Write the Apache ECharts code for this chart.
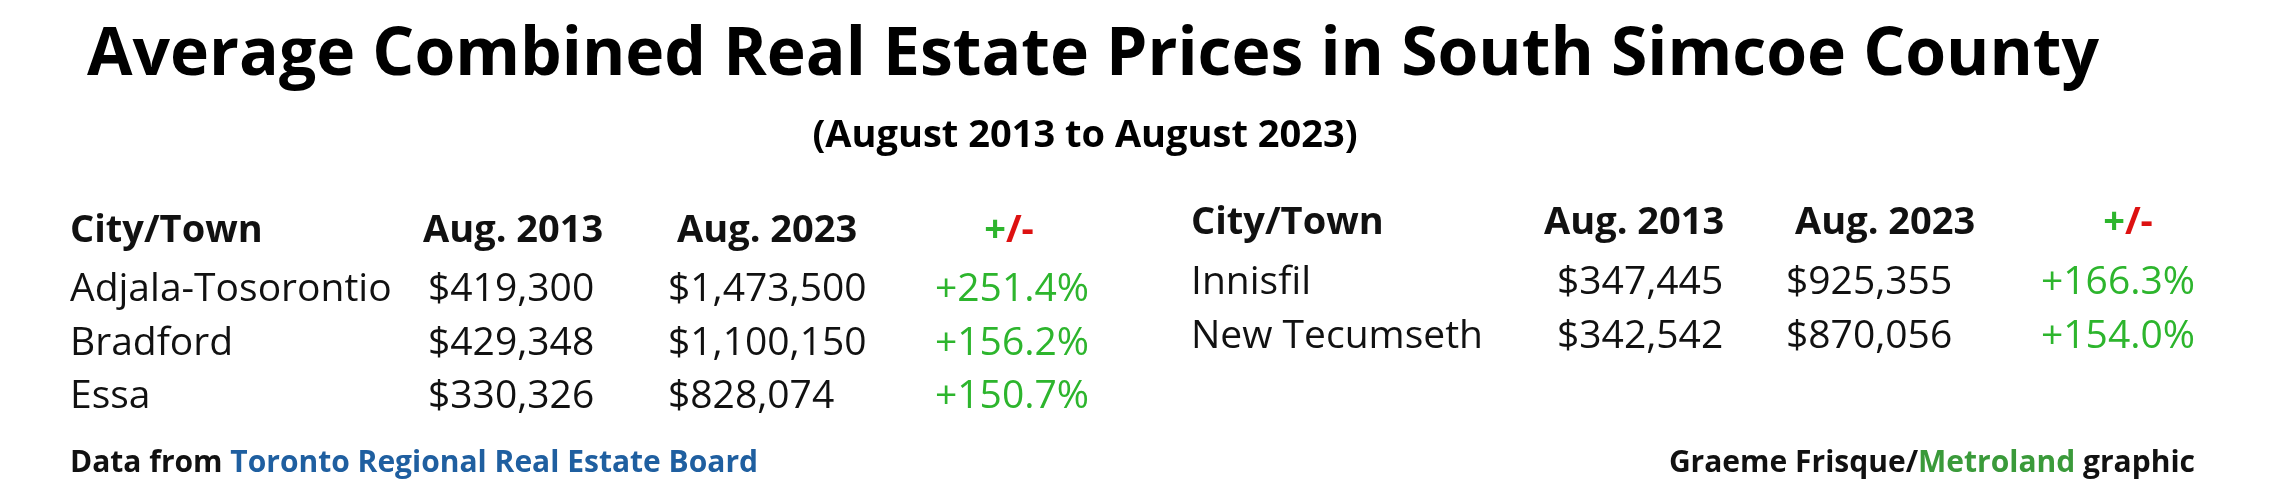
<!DOCTYPE html><html><head><meta charset="utf-8"><script src="https://cdn.jsdelivr.net/npm/echarts@6/dist/echarts.min.js"></script>
<style>html,body{margin:0;background:#fff}#c{width:2269px;height:500px}</style></head><body><div id="c"></div><script>
const headers=["City/Town","Aug. 2013","Aug. 2023"];
const leftTowns=["Adjala-Tosorontio","Bradford","Essa"];
const left2013=["$419,300","$429,348","$330,326"];
const left2023=["$1,473,500","$1,100,150","$828,074"];
const leftPct=["+251.4%","+156.2%","+150.7%"];
const rightTowns=["Innisfil","New Tecumseth"];
const right2013=["$347,445","$342,542"];
const right2023=["$925,355","$870,056"];
const rightPct=["+166.3%","+154.0%"];
const F='"Open Sans", sans-serif';
const G='#2db52d';
const els=[];
function t(x,y,text,o){els.push({type:'text',x,y,style:Object.assign({text,font:'400 39px '+F,fill:'#111',textVerticalAlign:'middle'},o||{})});}
t(1093,56,'Average Combined Real Estate Prices in South Simcoe County',{font:'700 66px '+F,textAlign:'center',fill:'#000'});
t(1085,136,'(August 2013 to August 2023)',{font:'700 38px '+F,textAlign:'center',fill:'#000'});
function table(cols,hy,rowsY,towns,a,b,p){
  const H='700 38px '+F;
  t(cols[0],hy,headers[0],{font:H});t(cols[1],hy,headers[1],{font:H});t(cols[2],hy,headers[2],{font:H});
  els.push({type:'text',x:cols[3],y:hy,style:{text:'{g|+}{r|/-}',textAlign:'center',textVerticalAlign:'middle',rich:{g:{font:H,fill:G},r:{font:H,fill:'#d11'}}}});
  towns.forEach((n,i)=>{const y=rowsY[i];t(cols[0],y,n);t(cols[4],y,a[i]);t(cols[5],y,b[i]);t(cols[6],y,p[i],{fill:G,textAlign:'right'});});
}
table([70,423,677,1009,428,668,1089],231,[290,344,397],leftTowns,left2013,left2023,leftPct);
table([1191,1544,1795,2128,1557,1786,2195],223,[283,337],rightTowns,right2013,right2023,rightPct);
els.push({type:'text',x:70,y:463,style:{text:'{k|Data from }{b|Toronto Regional Real Estate Board}',textVerticalAlign:'middle',rich:{k:{font:'700 30px '+F,fill:'#111'},b:{font:'700 30px '+F,fill:'#1f5fa0'}}}});
els.push({type:'text',x:2195,y:463,style:{text:'{k|Graeme Frisque/}{g|Metroland}{k| graphic}',textAlign:'right',textVerticalAlign:'middle',rich:{k:{font:'700 30px '+F,fill:'#111'},g:{font:'700 30px '+F,fill:'#3a9a3a'}}}});
const ch=echarts.init(document.getElementById('c'));
ch.setOption({backgroundColor:'#fff',graphic:{elements:els}});
</script></body></html>
